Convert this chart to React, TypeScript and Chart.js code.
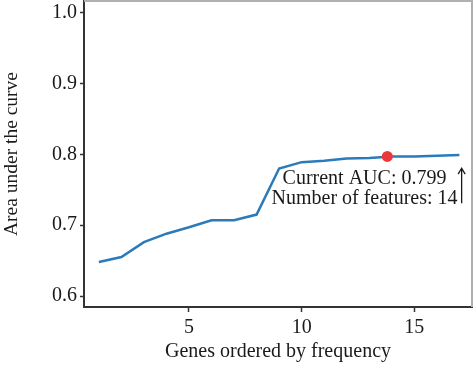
import React, { useEffect, useRef } from "react";
import { Chart, registerables } from "chart.js";

Chart.register(...registerables);

const genes = [1, 2, 3, 4, 5, 6, 7, 8, 9, 10, 11, 12, 13, 14, 15, 16, 17];
const auc = [0.648, 0.655, 0.676, 0.688, 0.697, 0.707, 0.707, 0.715, 0.78, 0.789, 0.791, 0.794, 0.795, 0.797, 0.797, 0.798, 0.799];
const currentPoint = { x: 13.8, y: 0.797 };
const xTicks = [5, 10, 15];
const yTicks = [0.6, 0.7, 0.8, 0.9, 1.0];
const annotationLines = ["Current AUC: 0.799", "Number of features: 14"];
const annotationAnchor = { x: 12.79, y1: 0.7587, y2: 0.7296 };
const arrowPos = { x: 17.1, from: 0.731, to: 0.7805 };

const FONT = "'Liberation Serif', 'DejaVu Serif', serif";

const framePlugin = {
  id: "frameAndNotes",
  afterDatasetsDraw(chart: any) {
    const { ctx, chartArea, scales } = chart;
    const xs = scales.x;
    const ys = scales.y;
    ctx.save();
    ctx.strokeStyle = "#b0b0b0";
    ctx.lineWidth = 2;
    ctx.beginPath();
    ctx.moveTo(chartArea.left, chartArea.top);
    ctx.lineTo(chartArea.right, chartArea.top);
    ctx.lineTo(chartArea.right, chartArea.bottom);
    ctx.stroke();
    ctx.fillStyle = "#1a1a1a";
    ctx.font = `20px ${FONT}`;
    ctx.textAlign = "center";
    ctx.textBaseline = "alphabetic";
    const cx = xs.getPixelForValue(annotationAnchor.x);
    ctx.fillText(annotationLines[0], cx, ys.getPixelForValue(annotationAnchor.y1));
    ctx.fillText(annotationLines[1], cx, ys.getPixelForValue(annotationAnchor.y2));
    const ax = xs.getPixelForValue(arrowPos.x);
    const ay1 = ys.getPixelForValue(arrowPos.from);
    const ay2 = ys.getPixelForValue(arrowPos.to);
    ctx.strokeStyle = "#1a1a1a";
    ctx.lineWidth = 1.3;
    ctx.beginPath();
    ctx.moveTo(ax, ay1);
    ctx.lineTo(ax, ay2);
    ctx.moveTo(ax - 3.5, ay2 + 6);
    ctx.lineTo(ax, ay2);
    ctx.lineTo(ax + 3.5, ay2 + 6);
    ctx.stroke();
    ctx.restore();
  },
};

export default function App() {
  const ref = useRef<HTMLCanvasElement | null>(null);
  useEffect(() => {
    if (!ref.current) return;
    const chart = new Chart(ref.current, {
      type: "line",
      data: {
        datasets: [
          {
            label: "AUC",
            data: genes.map((g, i) => ({ x: g, y: auc[i] })),
            borderColor: "#2b7bba",
            borderWidth: 2.5,
            pointRadius: 0,
            tension: 0,
            order: 2,
          },
          {
            label: "Current",
            data: [currentPoint],
            showLine: false,
            pointRadius: 5.5,
            pointBackgroundColor: "#e8383d",
            pointBorderWidth: 0,
            order: 1,
          },
        ],
      },
      options: {
        animation: false,
        responsive: false,
        maintainAspectRatio: false,
        devicePixelRatio: 1,
        layout: { autoPadding: false, padding: { top: 1, right: 2, left: 0, bottom: 0 } },
        plugins: { legend: { display: false }, tooltip: { enabled: false } },
        scales: {
          x: {
            type: "linear",
            min: 0.34,
            max: 17.56,
            afterBuildTicks: (s: any) => {
              s.ticks = xTicks.map((v) => ({ value: v }));
            },
            afterFit: (s: any) => {
              s.height = 65;
              s.paddingLeft = 0;
              s.paddingRight = 0;
            },
            grid: { drawOnChartArea: false, tickLength: 5, tickColor: "#333", tickWidth: 1.5 },
            border: { display: true, color: "#333", width: 2 },
            ticks: { color: "#1a1a1a", font: { family: FONT, size: 20 }, padding: 4, maxRotation: 0 },
            title: {
              display: true,
              text: "Genes ordered by frequency",
              color: "#1a1a1a",
              font: { family: FONT, size: 20 },
              padding: { top: 0, bottom: 8 },
            },
          },
          y: {
            type: "linear",
            min: 0.5845,
            max: 1.0165,
            afterBuildTicks: (s: any) => {
              s.ticks = yTicks.map((v) => ({ value: v }));
            },
            afterFit: (s: any) => {
              s.width = 84;
              s.paddingTop = 0;
              s.paddingBottom = 0;
            },
            grid: { drawOnChartArea: false, tickLength: 4, tickColor: "#333", tickWidth: 1.5 },
            border: { display: true, color: "#333", width: 2 },
            ticks: {
              color: "#1a1a1a",
              font: { family: FONT, size: 20 },
              padding: 3,
              callback: (v: any) => Number(v).toFixed(1),
            },
            title: {
              display: true,
              text: "Area under the curve",
              color: "#1a1a1a",
              font: { family: FONT, size: 19.5 },
              padding: { top: 0, bottom: 0 },
            },
          },
        },
      },
      plugins: [framePlugin],
    });
    return () => chart.destroy();
  }, []);
  return (
    <div style={{ position: "fixed", left: 0, top: 0, width: 474, height: 372, background: "#fff" }}>
      <canvas ref={ref} width={474} height={372} style={{ width: 474, height: 372, display: "block" }} />
    </div>
  );
}
